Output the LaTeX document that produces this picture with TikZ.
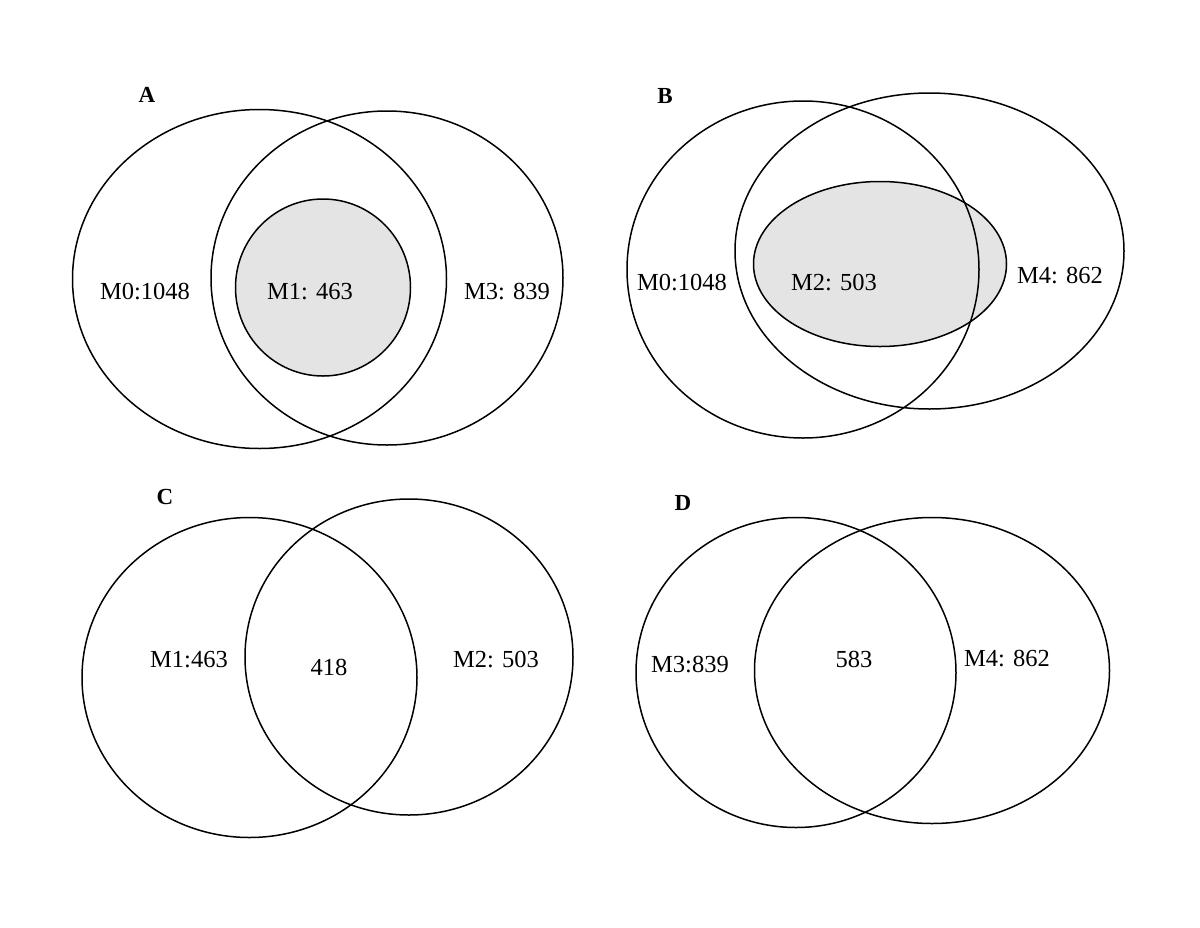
\documentclass[tikz,border=0pt]{standalone}
\usepackage{fontspec}
\setmainfont{Liberation Serif}
\usetikzlibrary{shapes.geometric}
\definecolor{shade}{RGB}{228,228,228}
\begin{document}
\begin{tikzpicture}[x=1pt,y=-1pt,
  setell/.style={ellipse, draw=black, line width=1.5pt, inner sep=0pt},
  subell/.style={setell, fill=shade},
  lbl/.style={font=\fontsize{24.5}{28}\selectfont, inner sep=0pt, anchor=center},
  panel/.style={font=\fontsize{23}{26}\selectfont\bfseries, inner sep=0pt, anchor=center}]
\useasboundingbox[fill=white] (0,0) rectangle (1200,927);

% ---------- Panel A ----------
\node[panel] (pA) at (147,95) {A};
\node[subell, minimum width=175pt, minimum height=177pt] (A1) at (323,287.5) {};
\node[setell, minimum width=374pt, minimum height=339pt] (A0) at (259.5,279) {};
\node[setell, minimum width=352pt, minimum height=334pt] (A3) at (387,278) {};
\node[lbl] (tA0) at (145,292) {M0:1048};
\node[lbl] (tA1) at (310,292) {M1: 463};
\node[lbl] (tA3) at (507,292) {M3: 839};

% ---------- Panel B ----------
\node[panel] (pB) at (665,96) {B};
\node[subell, minimum width=253pt, minimum height=165pt] (B2) at (880,264) {};
\node[setell, minimum width=352pt, minimum height=337pt] (B0) at (803,269.5) {};
\node[setell, minimum width=389pt, minimum height=316pt] (B4) at (929.5,251) {};
\node[lbl] (tB0) at (682,283) {M0:1048};
\node[lbl] (tB2) at (834,283) {M2: 503};
\node[lbl] (tB4) at (1060,276) {M4: 862};

% ---------- Panel C ----------
\node[panel] (pC) at (165,497) {C};
\node[setell, minimum width=335pt, minimum height=320pt] (C1) at (249.5,677.5) {};
\node[setell, minimum width=328pt, minimum height=316pt] (C2) at (409,657) {};
\node[lbl] (tC1) at (189,660) {M1:463};
\node[lbl] (tC12) at (329,667) {418};
\node[lbl] (tC2) at (496,660) {M2: 503};

% ---------- Panel D ----------
\node[panel] (pD) at (683,503) {D};
\node[setell, minimum width=320pt, minimum height=310pt] (D3) at (796,672.5) {};
\node[setell, minimum width=355pt, minimum height=306pt] (D4) at (932,670.5) {};
\node[lbl] (tD3) at (690,665) {M3:839};
\node[lbl] (tD34) at (854,659) {583};
\node[lbl] (tD4) at (1007,659) {M4: 862};
\end{tikzpicture}
\end{document}
